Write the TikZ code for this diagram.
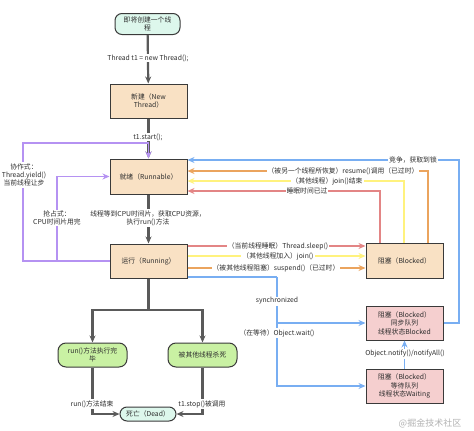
\documentclass[tikz,border=0pt]{standalone}
\usepackage{fontspec}
\setmainfont{Noto Sans CJK SC}
\usetikzlibrary{arrows.meta}
\definecolor{peach}{HTML}{F9E1C4}
\definecolor{pinkb}{HTML}{F5CFCF}
\definecolor{greenb}{HTML}{C9F1A3}
\definecolor{mint}{HTML}{DDF7EC}
\definecolor{edge}{HTML}{3A3A3A}
\definecolor{gline}{HTML}{5A5A5A}
\definecolor{cblue}{HTML}{78AEF2}
\definecolor{corange}{HTML}{EBA45E}
\definecolor{cyellow}{HTML}{FFF27E}
\definecolor{cred}{HTML}{E38585}
\definecolor{cpurple}{HTML}{B592F2}
\definecolor{txt}{HTML}{2E2E2E}
\tikzset{
  x=1pt,y=-1pt,
  every node/.style={font=\fontsize{6.8}{8.4}\selectfont,text=txt,align=center,inner sep=1pt},
  statebox/.style={draw=edge,line width=1pt,fill=peach,minimum width=77pt,minimum height=34pt},
  pinkbox/.style={statebox,fill=pinkb},
  greenbox/.style={draw=edge,line width=1pt,fill=greenb,rounded corners=8pt,minimum width=69pt,minimum height=24pt},
  mintbox/.style={draw=edge,line width=1pt,fill=mint,rounded corners=7pt},
  lbl/.style={fill=white,inner sep=1pt},
  tip/.style={-{Stealth[length=7pt,width=6pt]}},
  gl/.style={draw=gline,line width=2.2pt},
  bl/.style={draw=cblue,line width=1.8pt},
  ol/.style={draw=corange,line width=1.8pt},
  yl/.style={draw=cyellow,line width=1.8pt},
  rl/.style={draw=cred,line width=1.8pt},
  pl/.style={draw=cpurple,line width=1.8pt},
}
\begin{document}
\begin{tikzpicture}
\useasboundingbox (0,0) rectangle (474,431);
% nodes
\node[mintbox,minimum width=65pt,minimum height=21pt] (start) at (147.5,24) {即将创建一个线\\程};
\node[statebox] (new) at (148.5,101) {新建（New\\Thread）};
\node[statebox,minimum height=35pt] (run) at (148.5,176.5) {就绪（Runnable）};
\node[statebox] (running) at (148.5,261) {运行（Running）};
\node[statebox,minimum height=35pt] (blocked) at (404.5,260.5) {阻塞（Blocked）};
\node[pinkbox] (sync) at (404.5,323) {阻塞（Blocked）\\同步队列\\线程状态Blocked};
\node[pinkbox] (wait) at (404.5,386) {阻塞（Blocked）\\等待队列\\线程状态Waiting};
\node[greenbox] (g1) at (92.5,355) {run()方法执行完\\毕};
\node[greenbox] (g2) at (202.5,355) {被其他线程杀死};
\node[mintbox,minimum width=56pt,minimum height=14pt] (dead) at (148,414) {死亡（Dead）};
% coordinates
\coordinate (pA) at (23,143);
\coordinate (pB) at (57,261);
\coordinate (bA) at (459,160);
\coordinate (oA) at (428,171);
\coordinate (yA) at (404,181);
\coordinate (rA) at (380,191);
\coordinate (r2) at (300,246);
\coordinate (y2) at (300,256);
\coordinate (o2) at (300,268);
\coordinate (bs) at (277,277);
\coordinate (bj) at (148.5,310);
% main grey flow
\draw[gl,tip] (start) -- (new);
\draw[gl,tip] (new) -- (run);
\draw[gl,tip] (run) -- (running);
\draw[gl] (running) -- (bj);
\draw[gl,tip] (bj) -| (g1.north);
\draw[gl,tip] (bj) -| (g2.north);
\draw[gl,tip] (g1.south) |- (dead.west);
\draw[gl,tip] (g2.south) |- (dead.east);
% purple loops
\draw[pl,tip] (running.west) -| (pA) -| (run.north);
\draw[pl,tip] (pB) |- (run.west);
% right side back arrows
\draw[bl,tip] (sync.east) -| (bA) -- (run.east |- bA);
\draw[ol,tip] (blocked.north -| oA) -- (oA) -- (run.east |- oA);
\draw[yl,tip] (blocked.north -| yA) -- (yA) -- (run.east |- yA);
\draw[rl,tip] (blocked.north -| rA) -- (rA) -- (run.east |- rA);
% running -> blocked
\draw[rl,tip] (running.east |- r2) -- (blocked.west |- r2);
\draw[yl,tip] (running.east |- y2) -- (blocked.west |- y2);
\draw[ol,tip] (running.east |- o2) -- (blocked.west |- o2);
% synchronized / wait
\draw[bl] (running.east |- bs) -- (bs);
\draw[bl,tip] (bs) |- (wait.west);
\draw[bl,tip] (bs |- sync.west) -- (sync.west);
\draw[bl,tip] (wait.north) -- (sync.south);
% labels
\node[lbl] (l1) at (148,58) {Thread t1 = new Thread();};
\node[lbl] (l2) at (148,137) {t1.start();};
\node[lbl] (l3) at (148,218) {线程等到CPU时间片，获取CPU资源，\\执行run()方法};
\node[lbl] (l4) at (24,175) {协作式：\\Thread.yield()\\当前线程让步};
\node[lbl] (l5) at (57,218) {抢占式：\\CPU时间片用完};
\node[lbl] (l6) at (413,160) {竞争，获取到锁};
\node[lbl] (l7) at (343,171) {（被另一个线程所恢复）resume()调用（已过时）};
\node[lbl] (l8) at (327,181) {（其他线程）join()结束};
\node[lbl] (l9) at (307,191) {睡眠时间已过};
\node[lbl] (l10) at (278,246) {（当前线程睡眠）Thread.sleep()};
\node[lbl] (l11) at (278,256) {（其他线程加入）join()};
\node[lbl] (l12) at (276,268) {（被其他线程阻塞）suspend()（已过时）};
\node[lbl] (l13) at (277,301) {synchronized};
\node[lbl] (l14) at (277,333) {（在等待）Object.wait()};
\node[lbl] (l15) at (405,354) {Object.notify()/notifyAll()};
\node[lbl] (l16) at (92,404) {run()方法结束};
\node[lbl] (l17) at (202,404) {t1.stop()被调用};
\node[text=black!30,font=\fontsize{9}{10}\selectfont] (wm) at (430,423) {@掘金技术社区};
\end{tikzpicture}
\end{document}
